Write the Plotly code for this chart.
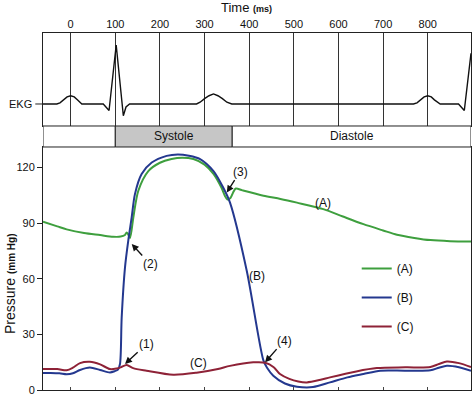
import plotly.graph_objects as go

# ---------------- data ----------------
# Aortic pressure (A)
t_A = [-62, -30, -9, 30, 66, 95, 112, 121.7, 125.5, 129, 133, 140.4, 151.6, 174, 200, 226, 250,
       275, 300, 320, 338, 346, 351, 358, 364, 370, 385, 432, 470, 507, 566, 610, 656, 700, 731,
       770, 806, 850, 897]
P_A = [90.7, 88.2, 86.6, 84.6, 83.5, 82.6, 82.7, 83.6, 84.9, 83.8, 82.0, 93, 107.4, 118, 122.5,
       124.5, 125.2, 124.5, 121.5, 116.5, 109, 104.5, 102.7, 103.5, 106.5, 108.6, 107.6, 104.7,
       103, 101, 97.5, 93.5, 89.4, 86, 83.7, 82, 80.8, 80.2, 80]

# Left ventricular pressure (B)
t_B = [-62, -45, -25, -9, 5, 21, 43, 66, 88, 99, 106, 110.5, 114.3, 121.7, 129, 136.7, 144, 159,
       181.6, 215, 240, 265, 290, 320, 342, 357, 394.5, 432, 440, 454, 480, 507, 543, 581, 620,
       656, 694, 750, 806, 825, 843, 870, 897]
P_B = [9.2, 9.2, 9.0, 8.5, 9.0, 10.8, 12.1, 10.8, 9.5, 10.2, 11.0, 14, 39, 66, 80.4, 93, 105.6,
       116.4, 122.6, 126.2, 127, 126.3, 124.5, 118, 109, 101, 64.3, 15.8, 12.0, 7.7, 3.5, 1.8,
       1.6, 4.1, 6.8, 8.6, 10.4, 10.4, 10.6, 12, 13.1, 12.3, 10.4]

# Atrial pressure (C)
t_C = [-62, -30, -9, 5, 21, 43, 66, 88, 103, 112, 125.5, 140, 170, 230, 282, 330, 357, 409, 436,
       455, 469, 490, 510, 529, 560, 581, 640, 686, 750, 806, 825, 843, 870, 897]
P_C = [11.3, 11.3, 10.6, 12, 14.5, 15.2, 13.8, 11.3, 11.6, 12.2, 13.5, 11.8, 10.4, 8.2, 9.3, 11.3,
       13, 14.9, 14.7, 12.3, 8.6, 6, 4.6, 4.1, 5.5, 6.8, 10, 11.8, 12.2, 12.4, 14, 15.4, 14.5, 12.4]

# EKG (arbitrary mV)
t_E = [-62, -31, -24, -16, -8, 0, 8, 15, 20, 25, 73, 86, 102, 118, 124, 132, 282, 290, 300, 310,
       320, 330, 340, 350, 361, 768, 776, 784, 792, 800, 808, 815, 821, 828, 869, 882, 897]
V_E = [0, 0, 0.02, 0.07, 0.12, 0.14, 0.12, 0.07, 0.03, 0, 0, -0.11, 1.0, -0.2, -0.05, 0, 0, 0.03,
       0.09, 0.14, 0.17, 0.14, 0.09, 0.03, 0, 0, 0.02, 0.07, 0.12, 0.14, 0.12, 0.07, 0.03, 0, 0,
       -0.11, 0.86]

time_ticks = [0, 100, 200, 300, 400, 500, 600, 700, 800]
pressure_ticks = [0, 30, 60, 90, 120]
systole_bounds = [100, 362]
x_range = [-62, 897]

green = "#3e9f3e"
blue = "#24388f"
red = "#8e2237"
FONT = "Liberation Sans, Arial, sans-serif"

# domains (paper)
bottom_dom = [0, 0.6807]
top_dom = [0.7395, 1]

fig = go.Figure()
fig.add_trace(go.Scatter(x=t_A, y=P_A, mode="lines", name="(A)", legendgroup="a",
                         line=dict(color=green, width=2, shape="spline", smoothing=0.8)))
fig.add_trace(go.Scatter(x=t_B, y=P_B, mode="lines", name="(B)", legendgroup="b",
                         line=dict(color=blue, width=2, shape="spline", smoothing=0.8)))
fig.add_trace(go.Scatter(x=t_C, y=P_C, mode="lines", name="(C)", legendgroup="c",
                         line=dict(color=red, width=2, shape="spline", smoothing=0.8)))
fig.add_trace(go.Scatter(x=t_E, y=V_E, mode="lines", showlegend=False, xaxis="x2", yaxis="y2",
                         line=dict(color="#111", width=1.4)))

shapes = []
bar_y = dict(yref="paper", y0=bottom_dom[1], y1=top_dom[0])
shapes.append(dict(type="rect", xref="x", x0=x_range[0], x1=systole_bounds[0], fillcolor="white",
                   line=dict(color="#222", width=1), **bar_y))
shapes.append(dict(type="rect", xref="x", x0=systole_bounds[0], x1=systole_bounds[1],
                   fillcolor="#c6c6c6", line=dict(color="#222", width=1), **bar_y))
shapes.append(dict(type="rect", xref="x", x0=systole_bounds[1], x1=x_range[1], fillcolor="white",
                   line=dict(color="#222", width=1), **bar_y))
# EKG label lead line
shapes.append(dict(type="line", xref="paper", x0=-0.018, x1=0, yref="y2", y0=0, y1=0,
                   line=dict(color="#222", width=1)))

annos = []
mid_bar = (bottom_dom[1] + top_dom[0]) / 2
annos.append(dict(x=(systole_bounds[0] + systole_bounds[1]) / 2, y=mid_bar, xref="x", yref="paper",
                  yanchor="middle", text="Systole", showarrow=False,
                  font=dict(size=12, color="#111")))
annos.append(dict(x=(systole_bounds[1] + x_range[1]) / 2, y=mid_bar, xref="x", yref="paper",
                  yanchor="middle", text="Diastole", showarrow=False,
                  font=dict(size=12, color="#111")))
annos.append(dict(x=-0.02, y=0, xref="paper", yref="y2", xanchor="right", yanchor="middle",
                  text="EKG", showarrow=False, font=dict(size=11, color="#111")))
annos.append(dict(x=0.4766, y=1.0728, xref="paper", yref="paper", xanchor="center",
                  yanchor="middle",
                  text="Time <span style='font-size:9px;font-weight:bold'>(ms)</span>",
                  showarrow=False, font=dict(size=13, color="#111")))
annos.append(dict(x=-0.077, y=0.297, xref="paper", yref="paper", textangle=-90,
                  xanchor="center", yanchor="middle",
                  text="Pressure <span style='font-size:10px;font-weight:bold'>(mm Hg)</span>",
                  showarrow=False, font=dict(size=14, color="#111")))

# arrow callouts
callouts = [("(1)", 121.7, 14, 21.7, -20), ("(2)", 136.8, 78.7, 18.3, 20),
            ("(3)", 349.8, 106.5, 13.3, -20.7), ("(4)", 435.6, 14.9, 19, -21.7)]
for txt, cx, cy, ax, ay in callouts:
    annos.append(dict(x=cx, y=cy, xref="x", yref="y", text=txt, showarrow=True, arrowhead=2,
                      arrowsize=1, arrowwidth=1.4, arrowcolor="#111", ax=ax, ay=ay, standoff=0,
                      font=dict(size=12, color="#111")))
# curve labels
for txt, lx, ly in [("(A)", 566, 101), ("(B)", 418.6, 61.4), ("(C)", 286, 14.4)]:
    annos.append(dict(x=lx, y=ly, xref="x", yref="y", text=txt, showarrow=False,
                      font=dict(size=12, color="#111")))

fig.update_layout(
    width=474, height=398,
    margin=dict(l=43, r=3, t=33, b=8),
    paper_bgcolor="white", plot_bgcolor="white",
    font=dict(family=FONT, color="#111"),
    showlegend=True,
    legend=dict(x=0.733, y=0.381, xanchor="left", yanchor="top", bgcolor="rgba(0,0,0,0)",
                traceorder="grouped", tracegroupgap=10, font=dict(size=12, color="#111")),
    xaxis=dict(range=x_range, domain=[0, 1], anchor="y", showgrid=False, zeroline=False,
               showline=True, mirror=True, linecolor="#222", linewidth=1,
               tickvals=time_ticks, ticks="inside", ticklen=3, tickcolor="#444",
               showticklabels=False),
    yaxis=dict(range=[0, 131], domain=bottom_dom, anchor="x", showgrid=False, zeroline=False,
               showline=True, mirror=True, linecolor="#222", linewidth=1,
               tickvals=pressure_ticks, ticks="outside", ticklen=5, tickcolor="#222",
               tickfont=dict(size=11, color="#111")),
    xaxis2=dict(range=x_range, domain=[0, 1], anchor="y2", side="top", showgrid=True,
                gridcolor="#333", gridwidth=1, zeroline=False, showline=True, mirror=True,
                linecolor="#222", linewidth=1, tickvals=time_ticks, ticks="",
                tickfont=dict(size=11, color="#111")),
    yaxis2=dict(range=[-0.373, 1.203], domain=top_dom, anchor="x2", showgrid=False,
                zeroline=False, showline=True, mirror=True, linecolor="#222", linewidth=1,
                showticklabels=False, ticks=""),
    shapes=shapes,
    annotations=annos,
)

fig.write_html("out.html", config={"displayModeBar": False},
               post_script="document.body.style.margin='0';")
